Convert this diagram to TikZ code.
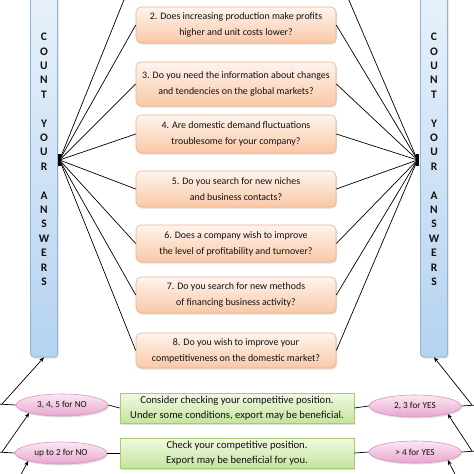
\documentclass[tikz,border=0pt]{standalone}
\usepackage{fontspec}
\setmainfont{Carlito}
\usetikzlibrary{shapes.geometric,shadows,arrows.meta}
\definecolor{qtop}{HTML}{FEF4EE}
\definecolor{qbot}{HTML}{F9C8A6}
\definecolor{qborder}{HTML}{F0B088}
\definecolor{gtop}{HTML}{F1F9E4}
\definecolor{gbot}{HTML}{C4E49C}
\definecolor{gborder}{HTML}{A6CC6C}
\definecolor{etop}{HTML}{FCE8F3}
\definecolor{ebot}{HTML}{E9A6CF}
\definecolor{eborder}{HTML}{D596BE}
\definecolor{btop}{HTML}{EAF2FB}
\definecolor{bbot}{HTML}{B5D2EF}
\definecolor{bborder}{HTML}{8DB3DC}
\definecolor{txt}{HTML}{111111}
\begin{document}
\begin{tikzpicture}[x=1pt,y=-1pt,
  shadowed/.style={drop shadow={shadow xshift=1pt,shadow yshift=-1.5pt,opacity=0.25}},
  qbox/.style={draw=qborder,line width=0.6pt,rounded corners=5pt,top color=qtop,bottom color=qbot,
    minimum width=200pt,inner sep=0pt,align=center,text=txt,font=\fontsize{9.9}{16}\selectfont,shadowed},
  gbox/.style={draw=gborder,line width=0.6pt,top color=gtop,bottom color=gbot,
    minimum width=234pt,minimum height=30pt,inner sep=0pt,align=center,text=txt,font=\fontsize{10.6}{15}\selectfont,shadowed},
  ell/.style={ellipse,draw=eborder,line width=0.6pt,top color=etop,bottom color=ebot,
    minimum width=92pt,minimum height=22pt,inner sep=0pt,text=txt,font=\fontsize{9.2}{10}\selectfont,shadowed},
  bar/.style={draw=bborder,line width=0.6pt,rounded corners=3pt,top color=btop,bottom color=bbot,
    minimum width=27pt,minimum height=377pt,inner sep=0pt,shadowed},
  barlbl/.style={align=center,inner sep=0pt,text=txt,font=\bfseries\fontsize{11.5}{14.4}\selectfont},
  hub/.style={fill=black,minimum width=3pt,minimum height=12pt,inner sep=0pt},
  link/.style={line width=0.7pt,black},
  arr/.style={line width=0.7pt,black,-{Stealth[length=5pt,width=4pt]}}
]
\useasboundingbox (0,0) rectangle (474,474);
\clip (0,0) rectangle (474,474);

% side bars
\node[bar] (barL) at (44,168.5) {};
\node[bar] (barR) at (434,168.5) {};
\node[barlbl,anchor=north] (lblL) at (44,33) {C\\O\\U\\N\\T\\~\\Y\\O\\U\\R\\~\\A\\N\\S\\W\\E\\R\\S};
\node[barlbl,anchor=north] (lblR) at (434,33) {C\\O\\U\\N\\T\\~\\Y\\O\\U\\R\\~\\A\\N\\S\\W\\E\\R\\S};

% question boxes
\coordinate (q1w) at (136,-30);
\coordinate (q1e) at (336,-30);
\node[qbox,minimum height=36pt] (q2) at (236,25) {2. Does increasing production make profits\\higher and unit costs lower?};
\node[qbox,minimum height=44pt] (q3) at (236,84) {3. Do you need the information about changes\\and tendencies on the global markets?};
\node[qbox,minimum height=38pt] (q4) at (236,134) {4. Are domestic demand fluctuations\\troublesome for your company?};
\node[qbox,minimum height=36pt] (q5) at (236,189) {5. Do you search for new niches\\and business contacts?};
\node[qbox,minimum height=37pt] (q6) at (236,243.5) {6. Does a company wish to improve\\the level of profitability and turnover?};
\node[qbox,minimum height=36pt] (q7) at (236,295) {7. Do you search for new methods\\of financing business activity?};
\node[qbox,minimum height=35pt] (q8) at (236,350.5) {8. Do you wish to improve your\\competitiveness on the domestic market?};

% hubs
\coordinate (hL) at (59.5,160);
\coordinate (hR) at (417.5,160);
\draw[link] (hL) -- (q1w);
\draw[link] (hR) -- (q1e);
\foreach \q in {q2,q3,q4,q5,q6,q7,q8}{
  \draw[link] (hL) -- (\q.west);
  \draw[link] (hR) -- (\q.east);
}
\node[hub] (hubL) at (hL) {};
\node[hub] (hubR) at (hR) {};

% bottom results
\node[ell] (e1) at (62,405) {3, 4, 5 for NO};
\node[ell] (e2) at (61,453) {up to 2 for NO};
\node[ell] (e3) at (415,406) {2, 3 for YES};
\node[ell] (e4) at (415,452) {> 4 for YES};
\node[gbox] (g1) at (237,408) {Consider checking your competitive position.\\Under some conditions, export may be beneficial.};
\node[gbox] (g2) at (237,453) {Check your competitive position.\\Export may be beneficial for you.};

\draw[link] (e1.east) -- (g1.west);
\draw[link] (g1.east) -- (e3.west);
\draw[link] (e2.east) -- (g2.west);
\draw[link] (g2.east) -- (e4.west);

\coordinate (lb1) at (-3,404);
\coordinate (fl1) at (2,404);
\coordinate (lb2) at (-3,452);
\coordinate (fl2) at (2,452);
\coordinate (lb3) at (19,478);
\draw[link] (lb1) -- (e1.west);
\draw[link] (lb2) -- (e2.west);
\draw[arr] (fl1) -- (barL.south);
\draw[arr] (fl2) -- (e1.south west);
\draw[arr] (lb3) -- (e2.south west);

\coordinate (rb1) at (477,405);
\coordinate (fr1) at (472,405);
\coordinate (rb2) at (477,451);
\coordinate (fr2) at (472,451);
\coordinate (rb3) at (457,478);
\draw[link] (e3.east) -- (rb1);
\draw[link] (e4.east) -- (rb2);
\draw[arr] (fr1) -- (barR.south);
\draw[arr] (fr2) -- (e3.south east);
\draw[arr] (rb3) -- (e4.south east);
\end{tikzpicture}
\end{document}
